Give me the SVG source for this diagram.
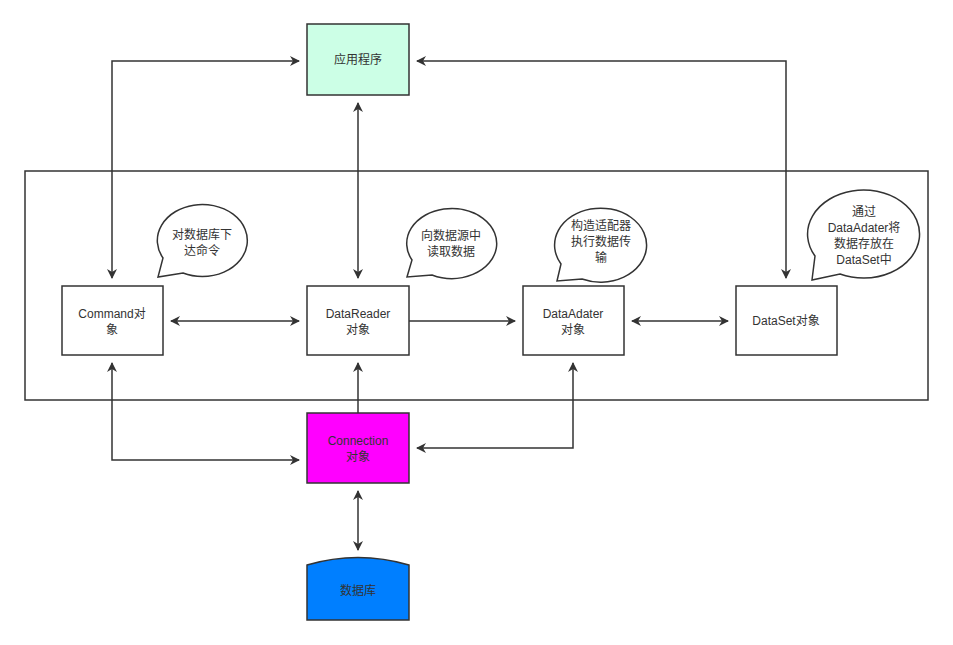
<svg xmlns="http://www.w3.org/2000/svg" width="953" height="645" viewBox="0 0 953 645">
<defs>
<marker id="a" markerWidth="10" markerHeight="10" refX="9" refY="5" orient="auto-start-reverse" markerUnits="userSpaceOnUse"><path d="M0,0 L10,5 L0,10 L3,5 Z" fill="#333"/></marker>
<style>
.n{stroke:#333;stroke-width:1.5}
.c{fill:none;stroke:#333;stroke-width:1.5}
text{font-family:"Liberation Sans","Noto Sans CJK SC",sans-serif;font-size:12px;fill:#333;text-anchor:middle}
</style>
</defs>
<rect width="953" height="645" fill="#fff"/>
<rect x="25" y="171" width="903" height="229" fill="none" stroke="#333" stroke-width="1.5"/>
<g id="connectors">
<path class="c" d="M112,278 V61 H299" marker-start="url(#a)" marker-end="url(#a)"/>
<path class="c" d="M358,278 V103" marker-start="url(#a)" marker-end="url(#a)"/>
<path class="c" d="M786,278 V61 H417" marker-start="url(#a)" marker-end="url(#a)"/>
<path class="c" d="M171,321 H299" marker-start="url(#a)" marker-end="url(#a)"/>
<path class="c" d="M409,321 H515" marker-end="url(#a)"/>
<path class="c" d="M632,321 H728" marker-start="url(#a)" marker-end="url(#a)"/>
<path class="c" d="M112,363 V460 H299" marker-start="url(#a)" marker-end="url(#a)"/>
<path class="c" d="M358,413 V363" marker-end="url(#a)"/>
<path class="c" d="M573,363 V448 H417" marker-start="url(#a)" marker-end="url(#a)"/>
<path class="c" d="M358,491 V550" marker-start="url(#a)" marker-end="url(#a)"/>
</g>
<g id="app"><rect class="n" x="307" y="24" width="102" height="71" fill="#ccffe6"/><text x="358" y="64">应用程序</text></g>
<g id="command"><rect class="n" x="62" y="286" width="101" height="69" fill="#fff"/><text x="112" y="318">Command对</text><text x="112" y="334">象</text></g>
<g id="datareader"><rect class="n" x="307" y="286" width="102" height="69" fill="#fff"/><text x="358" y="318">DataReader</text><text x="358" y="334">对象</text></g>
<g id="dataadater"><rect class="n" x="523" y="286" width="101" height="69" fill="#fff"/><text x="573" y="318">DataAdater</text><text x="573" y="334">对象</text></g>
<g id="dataset"><rect class="n" x="736" y="286" width="101" height="69" fill="#fff"/><text x="786" y="325">DataSet对象</text></g>
<g id="connection"><rect class="n" x="307" y="413" width="102" height="70" fill="#ff00ff"/><text x="358" y="445">Connection</text><text x="358" y="461">对象</text></g>
<g id="db"><path class="n" d="M307,565 Q358,550 409,565 V620 H307 Z" fill="#007fff"/><text x="358" y="595">数据库</text></g>
<g id="callout1"><path class="n" fill="#fff" d="M183,273 A45,36 0 1 0 163,258 L158,277 Z"/><text x="202" y="239">对数据库下</text><text x="202" y="255">达命令</text></g>
<g id="callout2"><path class="n" fill="#fff" d="M432,275 A45,35 0 1 0 412,260 L407,277 Z"/><text x="451" y="240">向数据源中</text><text x="451" y="256">读取数据</text></g>
<g id="callout3"><path class="n" fill="#fff" d="M582,279 A46,37 0 1 0 561,264 L557,281 Z"/><text x="601" y="230">构造适配器</text><text x="601" y="246">执行数据传</text><text x="601" y="262">输</text></g>
<g id="callout4"><path class="n" fill="#fff" d="M840,274 A56,44 0 1 0 815,256 L812,280 Z"/><text x="864" y="216">通过</text><text x="864" y="232">DataAdater将</text><text x="864" y="248">数据存放在</text><text x="864" y="264">DataSet中</text></g>
</svg>
